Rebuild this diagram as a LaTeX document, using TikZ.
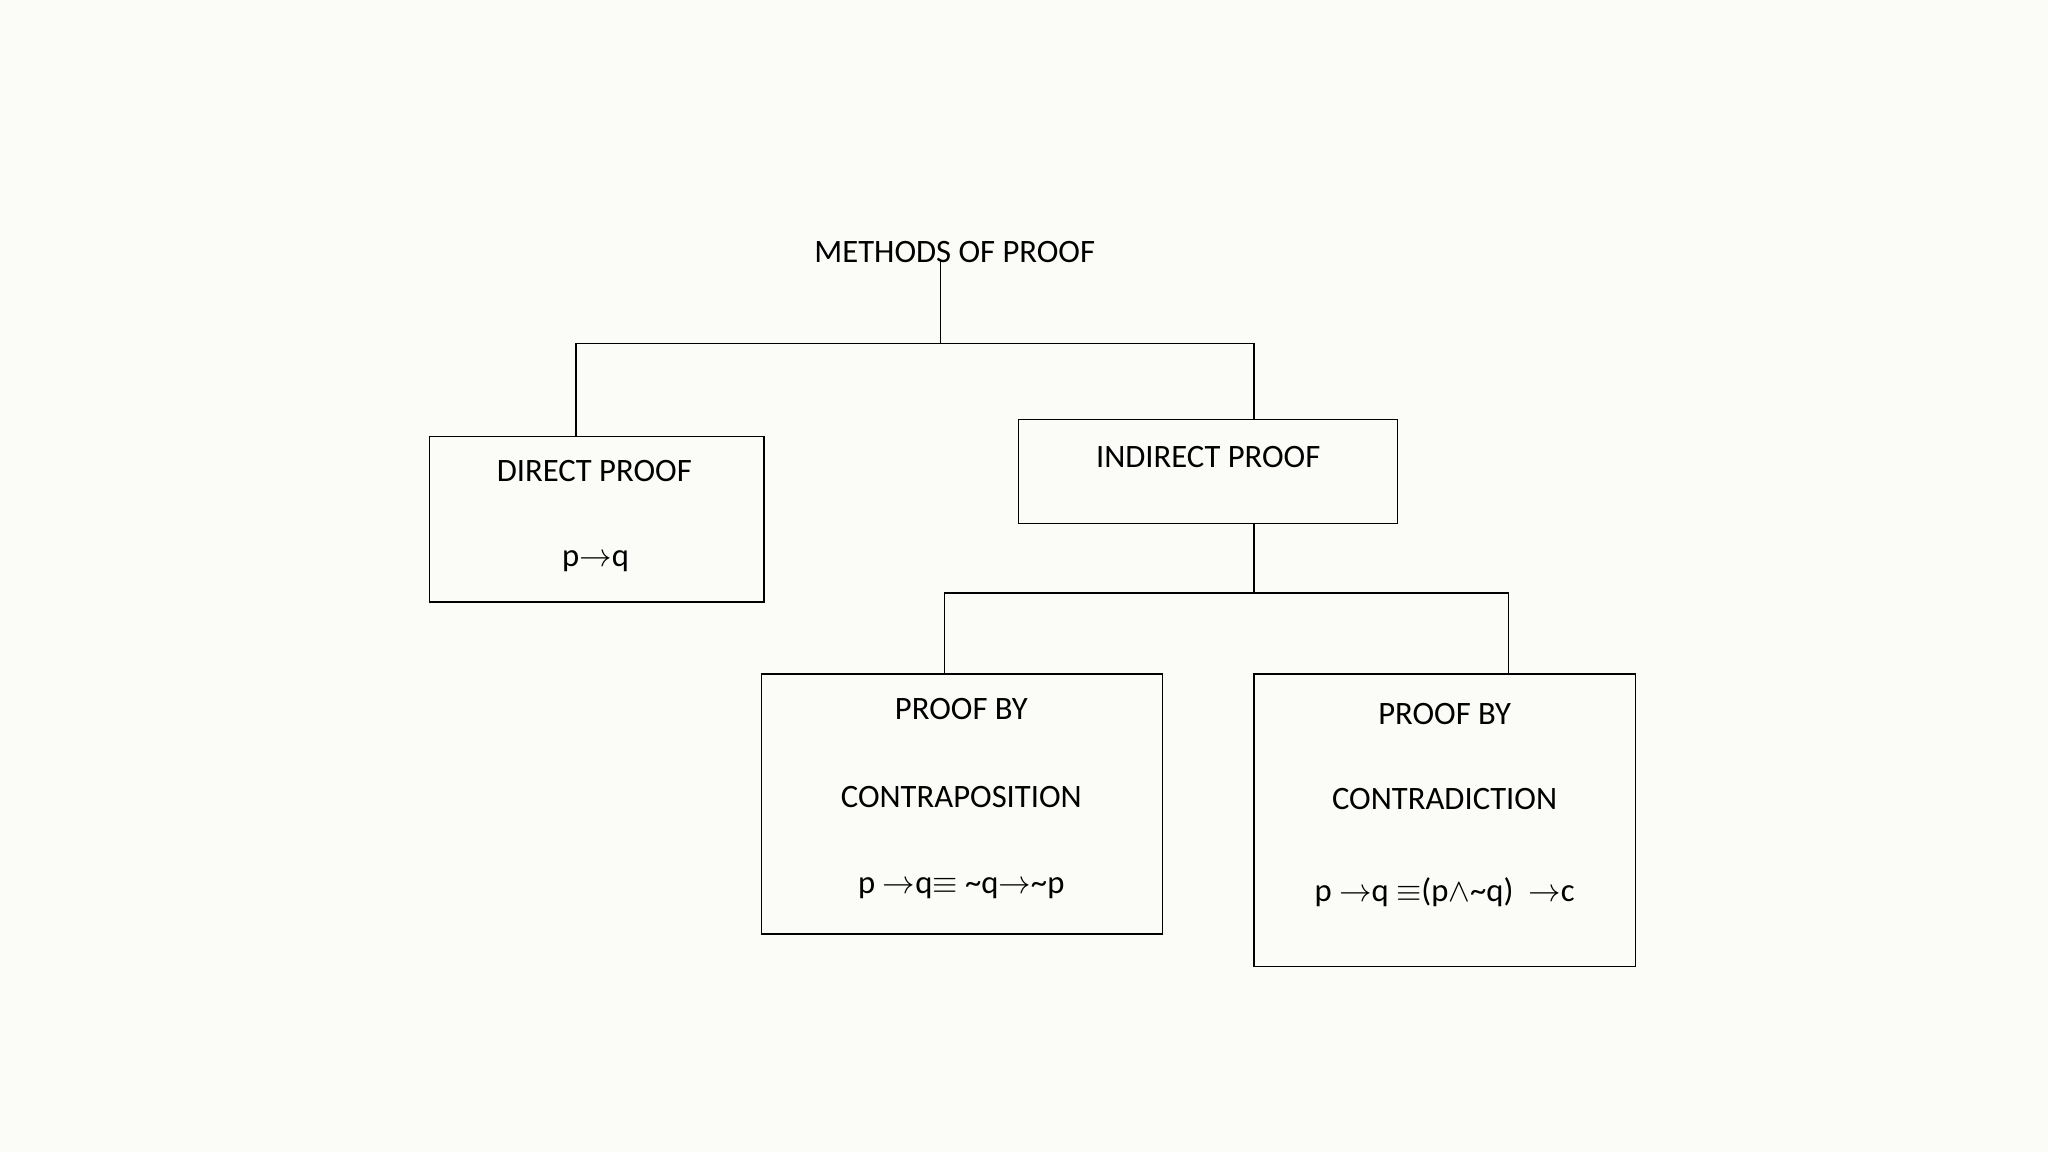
\documentclass[tikz,border=0pt]{standalone}
\usepackage{fontspec}
\setmainfont{Carlito}
\definecolor{bg}{HTML}{FBFBF7}
\begin{document}
\begin{tikzpicture}[x=1pt,y=-1pt,
  box/.style={draw=black,line width=1pt,fill=none},
  lbl/.style={font=\fontsize{25}{28}\selectfont,inner sep=0pt},
  con/.style={draw=black,line width=1pt}]
\fill[bg] (0,0) rectangle (1568,882);
\useasboundingbox (0,0) rectangle (1568,882);
\node[lbl] (title) at (731,193) {METHODS OF PROOF};
\node[box,minimum width=256pt,minimum height=127pt] (dp) at (457,397.5) {};
\node[lbl] at (455,361) {DIRECT PROOF};
\node[lbl] at (456,430) {p$\to$q};
\node[box,minimum width=290pt,minimum height=80pt] (ip) at (925,361) {};
\node[lbl] at (925,350) {INDIRECT PROOF};
\node[box,minimum width=307pt,minimum height=199pt] (cp) at (736.5,615.5) {};
\node[lbl] at (736,543) {PROOF BY};
\node[lbl] at (736,610) {CONTRAPOSITION};
\node[lbl] at (736,680) {p $\to$q$\equiv$ \textasciitilde q$\to$\textasciitilde p};
\node[box,minimum width=292pt,minimum height=224pt] (cd) at (1106,628) {};
\node[lbl] at (1106,547) {PROOF BY};
\node[lbl] at (1106,612) {CONTRADICTION};
\node[lbl] at (1106,683) {p $\to$q $\equiv$(p$\wedge$\textasciitilde q) \ $\to$c};
\coordinate (t) at (720,200);
\coordinate (h) at (720,263);
\coordinate (l) at (441,263);
\coordinate (r) at (960,263);
\coordinate (m) at (960,454);
\coordinate (ml) at (723,454);
\coordinate (mr) at (1155,454);
\draw[con] (t) -- (h);
\draw[con] (dp.north -| l) -- (l) -- (r) -- (ip.north -| r);
\draw[con] (ip.south -| m) -- (m);
\draw[con] (cp.north -| ml) -- (ml) -- (mr) -- (cd.north -| mr);
\end{tikzpicture}
\end{document}
